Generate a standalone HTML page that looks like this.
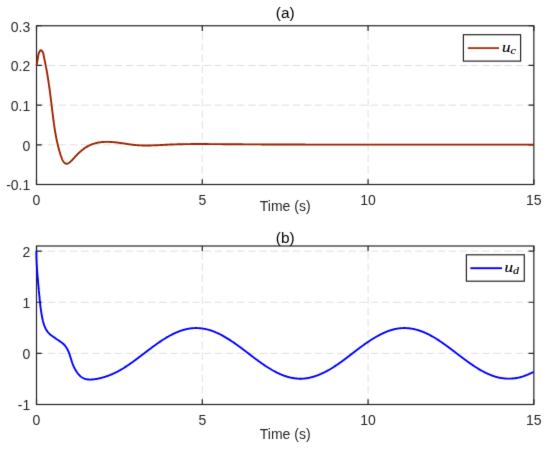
<!DOCTYPE html><html><head><meta charset="utf-8"><style>html,body{margin:0;padding:0;background:#fff;overflow:hidden;}svg{display:block;}text{font-family:'Liberation Sans', Arial, Helvetica, sans-serif;fill:#262626;}.lg{font-family:"Liberation Serif","DejaVu Serif",serif;font-style:italic;fill:#000;stroke:#000;stroke-width:0.15px;}</style></head><body>
<svg width="550" height="450" viewBox="0 0 550 450">
<defs><filter id="soft" x="0" y="0" width="550" height="450" filterUnits="userSpaceOnUse" color-interpolation-filters="sRGB"><feConvolveMatrix order="3" kernelMatrix="0.00810 0.07380 0.00810 0.07380 0.67240 0.07380 0.00810 0.07380 0.00810" edgeMode="duplicate" preserveAlpha="true"/></filter></defs>
<g filter="url(#soft)">
<rect width="550" height="450" fill="#fff"/>
<path d="M36.5,65.44H533.85M36.5,105.12H533.85M36.5,144.81H533.85" stroke="#e0e0e0" stroke-width="1" stroke-dasharray="7.5 3.64" fill="none"/>
<path d="M202.28,184.5V25.75" stroke="#e0e0e0" stroke-width="1" stroke-dasharray="7.5 3.64" fill="none"/>
<path d="M368.07,184.5V25.75" stroke="#e0e0e0" stroke-width="1" stroke-dasharray="7.5 3.64" fill="none"/>
<path d="M36.5,25.75h5.3M533.85,25.75h-5.3M36.5,65.44h5.3M533.85,65.44h-5.3M36.5,105.12h5.3M533.85,105.12h-5.3M36.5,144.81h5.3M533.85,144.81h-5.3M36.5,184.50h5.3M533.85,184.50h-5.3M36.50,184.5v-5.3M36.50,25.75v5.3M202.28,184.5v-5.3M202.28,25.75v5.3M368.07,184.5v-5.3M368.07,25.75v5.3M533.85,184.5v-5.3M533.85,25.75v5.3" stroke="#262626" stroke-width="1.2" fill="none"/>
<rect x="36.5" y="25.75" width="497.35" height="158.75" fill="none" stroke="#262626" stroke-width="1.2"/>
<path d="M36.51,65.82 L36.61,65.35 L36.70,64.89 L36.79,64.43 L36.87,63.98 L36.95,63.53 L37.03,63.08 L37.11,62.63 L37.18,62.19 L37.26,61.74 L37.33,61.30 L37.40,60.85 L37.47,60.41 L37.54,59.97 L37.61,59.52 L37.67,59.08 L37.74,58.63 L37.82,58.18 L37.89,57.73 L37.96,57.28 L38.04,56.83 L38.12,56.37 L38.20,55.91 L38.28,55.44 L38.37,54.98 L38.47,54.51 L38.59,54.04 L38.72,53.58 L38.86,53.12 L39.03,52.67 L39.22,52.22 L39.43,51.78 L39.68,51.35 L39.94,50.97 L40.23,50.64 L40.63,50.35 L41.05,50.27 L41.47,50.43 L41.88,50.78 L42.17,51.12 L42.43,51.50 L42.66,51.90 L42.86,52.32 L43.03,52.75 L43.18,53.19 L43.31,53.64 L43.43,54.10 L43.54,54.56 L43.63,55.03 L43.72,55.49 L43.81,55.96 L43.90,56.43 L43.99,56.89 L44.08,57.35 L44.17,57.81 L44.26,58.27 L44.36,58.72 L44.45,59.18 L44.54,59.63 L44.63,60.08 L44.72,60.53 L44.82,60.98 L44.91,61.43 L45.00,61.88 L45.09,62.33 L45.19,62.77 L45.28,63.22 L45.37,63.67 L45.46,64.11 L45.55,64.56 L45.64,65.01 L45.72,65.46 L45.81,65.90 L45.90,66.35 L45.98,66.80 L46.07,67.25 L46.15,67.70 L46.24,68.14 L46.32,68.59 L46.40,69.04 L46.49,69.49 L46.57,69.94 L46.65,70.39 L46.73,70.84 L46.81,71.29 L46.89,71.73 L46.97,72.18 L47.04,72.63 L47.12,73.08 L47.20,73.53 L47.28,73.98 L47.35,74.43 L47.43,74.88 L47.50,75.33 L47.58,75.78 L47.65,76.23 L47.72,76.68 L47.80,77.14 L47.87,77.59 L47.94,78.04 L48.01,78.49 L48.08,78.94 L48.15,79.39 L48.22,79.84 L48.29,80.29 L48.36,80.75 L48.43,81.20 L48.50,81.65 L48.56,82.10 L48.63,82.55 L48.70,83.00 L48.76,83.46 L48.83,83.91 L48.90,84.36 L48.96,84.81 L49.03,85.27 L49.09,85.72 L49.15,86.17 L49.22,86.62 L49.28,87.08 L49.34,87.53 L49.41,87.98 L49.47,88.44 L49.53,88.89 L49.59,89.34 L49.66,89.80 L49.72,90.25 L49.78,90.70 L49.84,91.16 L49.90,91.61 L49.96,92.06 L50.02,92.52 L50.08,92.97 L50.14,93.42 L50.20,93.88 L50.26,94.33 L50.31,94.79 L50.37,95.24 L50.43,95.69 L50.49,96.15 L50.55,96.60 L50.60,97.06 L50.66,97.51 L50.72,97.97 L50.78,98.42 L50.83,98.87 L50.89,99.33 L50.95,99.78 L51.00,100.24 L51.06,100.69 L51.12,101.15 L51.17,101.60 L51.23,102.06 L51.28,102.51 L51.34,102.97 L51.39,103.42 L51.45,103.88 L51.51,104.33 L51.56,104.79 L51.62,105.24 L51.67,105.70 L51.73,106.15 L51.78,106.61 L51.84,107.06 L51.89,107.52 L51.95,107.97 L52.00,108.43 L52.06,108.88 L52.11,109.34 L52.17,109.79 L52.22,110.25 L52.28,110.70 L52.33,111.16 L52.39,111.61 L52.45,112.07 L52.50,112.52 L52.56,112.98 L52.61,113.43 L52.67,113.89 L52.72,114.34 L52.78,114.80 L52.84,115.25 L52.89,115.71 L52.95,116.17 L53.01,116.62 L53.06,117.08 L53.12,117.53 L53.18,117.98 L53.24,118.44 L53.30,118.89 L53.36,119.35 L53.42,119.80 L53.47,120.26 L53.54,120.71 L53.60,121.17 L53.66,121.62 L53.72,122.07 L53.78,122.53 L53.84,122.98 L53.90,123.44 L53.97,123.89 L54.03,124.34 L54.10,124.80 L54.16,125.25 L54.23,125.70 L54.29,126.16 L54.36,126.61 L54.43,127.06 L54.49,127.51 L54.56,127.97 L54.63,128.42 L54.70,128.87 L54.77,129.32 L54.84,129.77 L54.92,130.23 L54.99,130.68 L55.06,131.13 L55.14,131.58 L55.21,132.03 L55.29,132.48 L55.36,132.93 L55.44,133.38 L55.52,133.83 L55.60,134.28 L55.68,134.73 L55.76,135.18 L55.84,135.63 L55.93,136.08 L56.01,136.52 L56.10,136.97 L56.18,137.42 L56.27,137.87 L56.36,138.32 L56.45,138.76 L56.54,139.21 L56.63,139.66 L56.72,140.10 L56.82,140.55 L56.91,140.99 L57.01,141.44 L57.10,141.89 L57.20,142.33 L57.30,142.77 L57.40,143.22 L57.50,143.66 L57.61,144.11 L57.71,144.55 L57.82,144.99 L57.93,145.44 L58.03,145.88 L58.14,146.32 L58.25,146.76 L58.37,147.20 L58.48,147.64 L58.60,148.08 L58.71,148.52 L58.83,148.96 L58.95,149.40 L59.07,149.84 L59.19,150.28 L59.32,150.72 L59.44,151.16 L59.57,151.59 L59.70,152.03 L59.83,152.47 L59.96,152.91 L60.10,153.34 L60.24,153.78 L60.38,154.22 L60.52,154.65 L60.66,155.09 L60.81,155.52 L60.96,155.96 L61.11,156.40 L61.27,156.83 L61.43,157.27 L61.59,157.71 L61.76,158.15 L61.92,158.58 L62.10,159.02 L62.28,159.45 L62.47,159.87 L62.68,160.29 L62.89,160.70 L63.12,161.09 L63.37,161.48 L63.64,161.84 L63.93,162.19 L64.25,162.52 L64.58,162.83 L64.95,163.11 L65.34,163.36 L65.75,163.57 L66.17,163.71 L66.60,163.78 L67.03,163.76 L67.45,163.65 L67.87,163.48 L68.28,163.25 L68.69,163.00 L69.08,162.72 L69.46,162.44 L69.83,162.15 L70.19,161.86 L70.54,161.56 L70.88,161.25 L71.22,160.94 L71.54,160.63 L71.87,160.31 L72.18,159.99 L72.49,159.66 L72.80,159.33 L73.11,159.00 L73.41,158.67 L73.71,158.33 L74.01,158.00 L74.31,157.66 L74.62,157.33 L74.92,156.99 L75.23,156.65 L75.54,156.32 L75.85,155.99 L76.16,155.65 L76.48,155.32 L76.80,154.99 L77.12,154.66 L77.45,154.33 L77.77,154.01 L78.10,153.68 L78.44,153.36 L78.77,153.04 L79.11,152.73 L79.45,152.41 L79.79,152.10 L80.14,151.79 L80.48,151.48 L80.84,151.18 L81.19,150.88 L81.54,150.58 L81.90,150.29 L82.26,150.00 L82.63,149.71 L82.99,149.42 L83.36,149.15 L83.73,148.87 L84.10,148.60 L84.48,148.33 L84.86,148.07 L85.24,147.81 L85.62,147.56 L86.01,147.31 L86.40,147.07 L86.79,146.83 L87.18,146.60 L87.58,146.37 L87.98,146.15 L88.38,145.93 L88.78,145.72 L89.18,145.52 L89.59,145.32 L90.00,145.13 L90.42,144.94 L90.83,144.76 L91.25,144.59 L91.67,144.42 L92.09,144.26 L92.52,144.11 L92.94,143.96 L93.37,143.81 L93.80,143.68 L94.23,143.55 L94.67,143.42 L95.11,143.30 L95.54,143.19 L95.98,143.08 L96.42,142.97 L96.87,142.87 L97.31,142.78 L97.76,142.69 L98.20,142.61 L98.65,142.53 L99.10,142.45 L99.55,142.38 L100.00,142.32 L100.45,142.26 L100.91,142.21 L101.36,142.15 L101.82,142.11 L102.27,142.07 L102.73,142.03 L103.19,141.99 L103.65,141.97 L104.11,141.94 L104.56,141.92 L105.02,141.90 L105.48,141.89 L105.94,141.88 L106.40,141.87 L106.87,141.87 L107.33,141.87 L107.79,141.87 L108.25,141.88 L108.71,141.89 L109.17,141.90 L109.63,141.92 L110.09,141.94 L110.55,141.96 L111.01,141.98 L111.47,142.01 L111.93,142.04 L112.39,142.08 L112.84,142.11 L113.30,142.15 L113.76,142.19 L114.22,142.23 L114.67,142.28 L115.13,142.32 L115.59,142.37 L116.05,142.42 L116.50,142.47 L116.96,142.53 L117.41,142.58 L117.87,142.64 L118.33,142.70 L118.78,142.76 L119.24,142.82 L119.69,142.88 L120.15,142.94 L120.60,143.00 L121.06,143.07 L121.51,143.13 L121.97,143.20 L122.42,143.27 L122.87,143.33 L123.33,143.40 L123.78,143.47 L124.24,143.54 L124.69,143.60 L125.14,143.67 L125.60,143.74 L126.05,143.81 L126.50,143.88 L126.96,143.94 L127.41,144.01 L127.86,144.08 L128.32,144.14 L128.77,144.21 L129.23,144.27 L129.68,144.33 L130.13,144.40 L130.59,144.46 L131.04,144.52 L131.49,144.58 L131.95,144.63 L132.40,144.69 L132.85,144.74 L133.31,144.80 L133.76,144.85 L134.21,144.90 L134.67,144.95 L135.12,144.99 L135.58,145.04 L136.03,145.08 L136.48,145.12 L136.94,145.15 L137.39,145.19 L137.85,145.22 L138.30,145.25 L138.76,145.28 L139.21,145.31 L139.67,145.33 L140.12,145.36 L140.58,145.38 L141.03,145.40 L141.49,145.41 L141.94,145.43 L142.40,145.44 L142.85,145.46 L143.31,145.47 L143.77,145.48 L144.22,145.48 L144.68,145.49 L145.13,145.49 L145.59,145.50 L146.05,145.50 L146.50,145.50 L146.96,145.50 L147.42,145.50 L147.87,145.49 L148.33,145.49 L148.78,145.48 L149.24,145.47 L149.70,145.46 L150.15,145.46 L150.61,145.44 L151.07,145.43 L151.53,145.42 L151.98,145.41 L152.44,145.39 L152.90,145.38 L153.35,145.36 L153.81,145.35 L154.27,145.33 L154.73,145.31 L155.18,145.29 L155.64,145.27 L156.10,145.25 L156.55,145.23 L157.01,145.21 L157.47,145.19 L157.93,145.17 L158.38,145.14 L158.84,145.12 L159.30,145.10 L159.76,145.08 L160.21,145.05 L160.67,145.03 L161.13,145.00 L161.59,144.98 L162.05,144.96 L162.50,144.93 L162.96,144.91 L163.42,144.89 L163.88,144.86 L164.33,144.84 L164.79,144.81 L165.25,144.79 L165.71,144.77 L166.16,144.74 L166.62,144.72 L167.08,144.70 L167.54,144.68 L168.00,144.66 L168.45,144.63 L168.91,144.61 L169.37,144.59 L169.83,144.57 L170.28,144.55 L170.74,144.54 L171.20,144.52 L171.66,144.50 L172.12,144.48 L172.57,144.46 L173.03,144.45 L173.49,144.43 L173.95,144.42 L174.40,144.40 L174.86,144.38 L175.32,144.37 L175.78,144.36 L176.23,144.34 L176.69,144.33 L177.15,144.32 L177.61,144.30 L178.06,144.29 L178.52,144.28 L178.98,144.27 L179.44,144.25 L179.89,144.24 L180.35,144.23 L180.81,144.22 L181.27,144.21 L181.72,144.20 L182.18,144.19 L182.64,144.18 L183.10,144.18 L183.56,144.17 L184.01,144.16 L184.47,144.15 L184.93,144.14 L185.39,144.14 L185.84,144.13 L186.30,144.12 L186.76,144.12 L187.22,144.11 L187.67,144.11 L188.13,144.10 L188.59,144.10 L189.04,144.09 L189.50,144.09 L189.96,144.08 L190.42,144.08 L190.87,144.07 L191.33,144.07 L191.79,144.07 L192.25,144.06 L192.70,144.06 L193.16,144.06 L193.62,144.06 L194.08,144.05 L194.53,144.05 L194.99,144.05 L195.45,144.05 L195.91,144.05 L196.36,144.05 L196.82,144.05 L197.28,144.04 L197.74,144.04 L198.19,144.04 L198.65,144.04 L199.11,144.04 L199.57,144.04 L200.02,144.04 L200.48,144.04 L200.94,144.05 L201.40,144.05 L201.85,144.05 L202.31,144.05 L202.77,144.05 L203.22,144.05 L203.68,144.05 L204.14,144.05 L204.60,144.06 L205.05,144.06 L205.51,144.06 L205.97,144.06 L206.43,144.06 L206.88,144.07 L207.34,144.07 L207.80,144.07 L208.26,144.07 L208.71,144.08 L209.17,144.08 L209.63,144.08 L210.09,144.09 L210.54,144.09 L211.00,144.09 L211.46,144.10 L211.91,144.10 L212.37,144.10 L212.83,144.11 L213.29,144.11 L213.74,144.11 L214.20,144.12 L214.66,144.12 L215.12,144.12 L215.57,144.13 L216.03,144.13 L216.49,144.13 L216.95,144.14 L217.40,144.14 L217.86,144.14 L218.32,144.15 L218.78,144.15 L219.23,144.16 L219.69,144.16 L220.15,144.16 L220.60,144.17 L221.06,144.17 L221.52,144.17 L221.98,144.18 L222.43,144.18 L222.89,144.18 L223.35,144.19 L223.81,144.19 L224.26,144.19 L224.72,144.20 L225.18,144.20 L225.64,144.21 L226.09,144.21 L226.55,144.21 L227.01,144.22 L227.47,144.22 L227.92,144.22 L228.38,144.23 L228.84,144.23 L229.29,144.23 L229.75,144.24 L230.21,144.24 L230.67,144.24 L231.12,144.25 L231.58,144.25 L232.04,144.25 L232.50,144.25 L232.95,144.26 L233.41,144.26 L233.87,144.26 L234.33,144.27 L234.78,144.27 L235.24,144.27 L235.70,144.28 L236.16,144.28 L236.61,144.28 L237.07,144.29 L237.53,144.29 L237.99,144.29 L238.44,144.29 L238.90,144.30 L239.36,144.30 L239.82,144.30 L240.27,144.31 L240.73,144.31 L241.19,144.31 L241.64,144.31 L242.10,144.32 L242.56,144.32 L243.02,144.32 L243.47,144.33 L243.93,144.33 L244.39,144.33 L244.85,144.33 L245.30,144.34 L245.76,144.34 L246.22,144.34 L246.68,144.35 L247.13,144.35 L247.59,144.35 L248.05,144.35 L248.51,144.36 L248.96,144.36 L249.42,144.36 L249.88,144.36 L250.34,144.37 L250.79,144.37 L251.25,144.37 L251.71,144.37 L252.17,144.38 L252.62,144.38 L253.08,144.38 L253.54,144.38 L254.00,144.39 L254.45,144.39 L254.91,144.39 L255.37,144.39 L255.82,144.40 L256.28,144.40 L256.74,144.40 L257.20,144.40 L257.65,144.40 L258.11,144.41 L258.57,144.41 L259.03,144.41 L259.48,144.41 L259.94,144.42 L260.40,144.42 L260.86,144.42 L261.31,144.42 L261.77,144.43 L262.23,144.43 L262.69,144.43 L263.14,144.43 L263.60,144.43 L264.06,144.44 L264.52,144.44 L264.97,144.44 L265.43,144.44 L265.89,144.44 L266.35,144.45 L266.80,144.45 L267.26,144.45 L267.72,144.45 L268.18,144.45 L268.63,144.46 L269.09,144.46 L269.55,144.46 L270.01,144.46 L270.46,144.46 L270.92,144.47 L271.38,144.47 L271.84,144.47 L272.29,144.47 L272.75,144.47 L273.21,144.48 L273.67,144.48 L274.12,144.48 L274.58,144.48 L275.04,144.48 L275.50,144.48 L275.95,144.49 L276.41,144.49 L276.87,144.49 L277.33,144.49 L277.78,144.49 L278.24,144.50 L278.70,144.50 L279.16,144.50 L279.61,144.50 L280.07,144.50 L280.53,144.50 L280.99,144.51 L281.44,144.51 L281.90,144.51 L282.36,144.51 L282.82,144.51 L283.27,144.51 L283.73,144.51 L284.19,144.52 L284.65,144.52 L285.10,144.52 L285.56,144.52 L286.02,144.52 L286.48,144.52 L286.93,144.53 L287.39,144.53 L287.85,144.53 L288.31,144.53 L288.76,144.53 L289.22,144.53 L289.68,144.53 L290.14,144.54 L290.59,144.54 L291.05,144.54 L291.51,144.54 L291.97,144.54 L292.42,144.54 L292.88,144.54 L293.34,144.54 L293.80,144.55 L294.25,144.55 L294.71,144.55 L295.17,144.55 L295.63,144.55 L296.08,144.55 L296.54,144.55 L297.00,144.55 L297.46,144.56 L297.91,144.56 L298.37,144.56 L298.83,144.56 L299.29,144.56 L299.74,144.56 L300.20,144.56 L300.66,144.56 L301.12,144.57 L301.57,144.57 L302.03,144.57 L302.49,144.57 L302.95,144.57 L303.40,144.57 L303.86,144.57 L304.32,144.57 L304.78,144.57 L305.23,144.58 L305.69,144.58 L306.15,144.58 L306.61,144.58 L307.06,144.58 L307.52,144.58 L307.98,144.58 L308.44,144.58 L308.89,144.58 L309.35,144.58 L309.81,144.58 L310.27,144.59 L310.72,144.59 L311.18,144.59 L311.64,144.59 L312.10,144.59 L312.55,144.59 L313.01,144.59 L313.47,144.59 L313.93,144.59 L314.38,144.59 L314.84,144.59 L315.30,144.60 L315.76,144.60 L316.21,144.60 L316.67,144.60 L317.13,144.60 L317.59,144.60 L318.04,144.60 L318.50,144.60 L318.96,144.60 L319.42,144.60 L319.87,144.60 L320.33,144.60 L320.79,144.60 L321.25,144.61 L321.70,144.61 L322.16,144.61 L322.62,144.61 L323.08,144.61 L323.53,144.61 L323.99,144.61 L324.45,144.61 L324.91,144.61 L325.36,144.61 L325.82,144.61 L326.28,144.61 L326.74,144.61 L327.19,144.61 L327.65,144.61 L328.11,144.61 L328.57,144.62 L329.02,144.62 L329.48,144.62 L329.94,144.62 L330.40,144.62 L330.85,144.62 L331.31,144.62 L331.77,144.62 L332.23,144.62 L332.68,144.62 L333.14,144.62 L333.60,144.62 L334.06,144.62 L334.52,144.62 L334.97,144.62 L335.43,144.62 L335.89,144.62 L336.35,144.62 L336.80,144.62 L337.26,144.62 L337.72,144.62 L338.18,144.62 L338.63,144.63 L339.09,144.63 L339.55,144.63 L340.01,144.63 L340.46,144.63 L340.92,144.63 L341.38,144.63 L341.84,144.63 L342.29,144.63 L342.75,144.63 L343.21,144.63 L343.67,144.63 L344.12,144.63 L344.58,144.63 L345.04,144.63 L345.50,144.63 L345.95,144.63 L346.41,144.63 L346.87,144.63 L347.33,144.63 L347.78,144.63 L348.24,144.63 L348.70,144.63 L349.16,144.63 L349.61,144.63 L350.07,144.63 L350.53,144.63 L350.99,144.63 L351.44,144.63 L351.90,144.63 L352.36,144.63 L352.82,144.63 L353.27,144.63 L353.73,144.63 L354.19,144.63 L354.65,144.63 L355.10,144.63 L355.56,144.63 L356.02,144.63 L356.48,144.63 L356.94,144.63 L357.39,144.64 L357.85,144.64 L358.31,144.64 L358.77,144.64 L359.22,144.64 L359.68,144.64 L360.14,144.64 L360.60,144.64 L361.05,144.64 L361.51,144.64 L361.97,144.64 L362.43,144.64 L362.88,144.64 L363.34,144.64 L363.80,144.64 L364.26,144.64 L364.71,144.64 L365.17,144.64 L365.63,144.64 L366.09,144.64 L366.54,144.64 L367.00,144.64 L367.46,144.64 L367.92,144.64 L368.37,144.64 L368.83,144.64 L369.29,144.64 L369.75,144.64 L370.20,144.64 L370.66,144.64 L371.12,144.64 L371.58,144.64 L372.03,144.64 L372.49,144.64 L372.95,144.64 L373.41,144.64 L373.86,144.64 L374.32,144.64 L374.78,144.64 L375.24,144.64 L375.70,144.63 L376.15,144.63 L376.61,144.63 L377.07,144.63 L377.53,144.63 L377.98,144.63 L378.44,144.63 L378.90,144.63 L379.36,144.63 L379.81,144.63 L380.27,144.63 L380.73,144.63 L381.19,144.63 L381.64,144.63 L382.10,144.63 L382.56,144.63 L383.02,144.63 L383.47,144.63 L383.93,144.63 L384.39,144.63 L384.85,144.63 L385.30,144.63 L385.76,144.63 L386.22,144.63 L386.68,144.63 L387.13,144.63 L387.59,144.63 L388.05,144.63 L388.51,144.63 L388.96,144.63 L389.42,144.63 L389.88,144.63 L390.34,144.63 L390.79,144.63 L391.25,144.63 L391.71,144.63 L392.17,144.63 L392.63,144.63 L393.08,144.63 L393.54,144.63 L394.00,144.63 L394.46,144.63 L394.91,144.63 L395.37,144.63 L395.83,144.63 L396.29,144.63 L396.74,144.63 L397.20,144.63 L397.66,144.63 L398.12,144.63 L398.57,144.63 L399.03,144.63 L399.49,144.62 L399.95,144.62 L400.40,144.62 L400.86,144.62 L401.32,144.62 L401.78,144.62 L402.23,144.62 L402.69,144.62 L403.15,144.62 L403.61,144.62 L404.06,144.62 L404.52,144.62 L404.98,144.62 L405.44,144.62 L405.89,144.62 L406.35,144.62 L406.81,144.62 L407.27,144.62 L407.72,144.62 L408.18,144.62 L408.64,144.62 L409.10,144.62 L409.56,144.62 L410.01,144.62 L410.47,144.62 L410.93,144.62 L411.39,144.62 L411.84,144.62 L412.30,144.62 L412.76,144.62 L413.22,144.62 L413.67,144.62 L414.13,144.62 L414.59,144.62 L415.05,144.61 L415.50,144.61 L415.96,144.61 L416.42,144.61 L416.88,144.61 L417.33,144.61 L417.79,144.61 L418.25,144.61 L418.71,144.61 L419.16,144.61 L419.62,144.61 L420.08,144.61 L420.54,144.61 L420.99,144.61 L421.45,144.61 L421.91,144.61 L422.37,144.61 L422.82,144.61 L423.28,144.61 L423.74,144.61 L424.20,144.61 L424.65,144.61 L425.11,144.61 L425.57,144.61 L426.03,144.61 L426.49,144.61 L426.94,144.61 L427.40,144.61 L427.86,144.61 L428.32,144.61 L428.77,144.60 L429.23,144.60 L429.69,144.60 L430.15,144.60 L430.60,144.60 L431.06,144.60 L431.52,144.60 L431.98,144.60 L432.43,144.60 L432.89,144.60 L433.35,144.60 L433.81,144.60 L434.26,144.60 L434.72,144.60 L435.18,144.60 L435.64,144.60 L436.09,144.60 L436.55,144.60 L437.01,144.60 L437.47,144.60 L437.92,144.60 L438.38,144.60 L438.84,144.60 L439.30,144.60 L439.75,144.60 L440.21,144.60 L440.67,144.60 L441.13,144.60 L441.58,144.60 L442.04,144.60 L442.50,144.60 L442.96,144.59 L443.41,144.59 L443.87,144.59 L444.33,144.59 L444.79,144.59 L445.24,144.59 L445.70,144.59 L446.16,144.59 L446.62,144.59 L447.07,144.59 L447.53,144.59 L447.99,144.59 L448.45,144.59 L448.91,144.59 L449.36,144.59 L449.82,144.59 L450.28,144.59 L450.74,144.59 L451.19,144.59 L451.65,144.59 L452.11,144.59 L452.57,144.59 L453.02,144.59 L453.48,144.59 L453.94,144.59 L454.40,144.59 L454.85,144.59 L455.31,144.59 L455.77,144.59 L456.23,144.59 L456.68,144.59 L457.14,144.59 L457.60,144.59 L458.06,144.59 L458.51,144.59 L458.97,144.59 L459.43,144.59 L459.89,144.58 L460.34,144.58 L460.80,144.58 L461.26,144.58 L461.72,144.58 L462.17,144.58 L462.63,144.58 L463.09,144.58 L463.55,144.58 L464.00,144.58 L464.46,144.58 L464.92,144.58 L465.38,144.58 L465.83,144.58 L466.29,144.58 L466.75,144.58 L467.21,144.58 L467.66,144.58 L468.12,144.58 L468.58,144.58 L469.04,144.58 L469.49,144.58 L469.95,144.58 L470.41,144.58 L470.87,144.58 L471.32,144.58 L471.78,144.58 L472.24,144.58 L472.70,144.58 L473.15,144.58 L473.61,144.58 L474.07,144.58 L474.53,144.58 L474.98,144.58 L475.44,144.58 L475.90,144.58 L476.36,144.58 L476.81,144.58 L477.27,144.58 L477.73,144.58 L478.19,144.58 L478.64,144.58 L479.10,144.58 L479.56,144.58 L480.02,144.58 L480.47,144.58 L480.93,144.58 L481.39,144.58 L481.85,144.58 L482.30,144.58 L482.76,144.58 L483.22,144.58 L483.68,144.58 L484.13,144.58 L484.59,144.58 L485.05,144.58 L485.51,144.58 L485.96,144.58 L486.42,144.58 L486.88,144.58 L487.34,144.58 L487.79,144.58 L488.25,144.58 L488.71,144.58 L489.17,144.58 L489.62,144.58 L490.08,144.58 L490.54,144.58 L491.00,144.58 L491.45,144.58 L491.91,144.58 L492.37,144.58 L492.83,144.58 L493.28,144.58 L493.74,144.58 L494.20,144.58 L494.66,144.58 L495.11,144.58 L495.57,144.58 L496.03,144.58 L496.49,144.58 L496.94,144.58 L497.40,144.58 L497.86,144.58 L498.32,144.58 L498.77,144.58 L499.23,144.58 L499.69,144.58 L500.15,144.58 L500.60,144.58 L501.06,144.58 L501.52,144.58 L501.98,144.58 L502.43,144.58 L502.89,144.58 L503.35,144.58 L503.81,144.58 L504.26,144.58 L504.72,144.58 L505.18,144.58 L505.64,144.58 L506.09,144.58 L506.55,144.58 L507.01,144.58 L507.47,144.58 L507.92,144.59 L508.38,144.59 L508.84,144.59 L509.30,144.59 L509.75,144.59 L510.21,144.59 L510.67,144.59 L511.13,144.59 L511.58,144.59 L512.04,144.59 L512.50,144.59 L512.96,144.59 L513.41,144.59 L513.87,144.59 L514.33,144.59 L514.79,144.59 L515.24,144.59 L515.70,144.59 L516.16,144.59 L516.62,144.59 L517.07,144.59 L517.53,144.59 L517.99,144.59 L518.45,144.59 L518.90,144.59 L519.36,144.59 L519.82,144.60 L520.28,144.60 L520.73,144.60 L521.19,144.60 L521.65,144.60 L522.11,144.60 L522.56,144.60 L523.02,144.60 L523.48,144.60 L523.94,144.60 L524.39,144.60 L524.85,144.60 L525.31,144.60 L525.77,144.60 L526.22,144.60 L526.68,144.60 L527.14,144.60 L527.60,144.60 L528.05,144.61 L528.51,144.61 L528.97,144.61 L529.42,144.61 L529.88,144.61 L530.34,144.61 L530.80,144.61 L531.25,144.61 L531.71,144.61 L532.17,144.61 L532.63,144.61 L533.08,144.61 L533.54,144.61 L533.85,144.61" fill="none" stroke="#9a2400" stroke-width="1.9" stroke-linejoin="round" stroke-linecap="butt"/>
<text x="30.3" y="31.65" font-size="14" text-anchor="end">0.3</text>
<text x="30.3" y="71.34" font-size="14" text-anchor="end">0.2</text>
<text x="30.3" y="111.03" font-size="14" text-anchor="end">0.1</text>
<text x="30.3" y="150.71" font-size="14" text-anchor="end">0</text>
<text x="30.3" y="190.40" font-size="14" text-anchor="end">-0.1</text>
<text x="36.50" y="204.7" font-size="14" text-anchor="middle">0</text>
<text x="202.28" y="204.7" font-size="14" text-anchor="middle">5</text>
<text x="368.07" y="204.7" font-size="14" text-anchor="middle">10</text>
<text x="533.85" y="204.7" font-size="14" text-anchor="middle">15</text>
<text x="285.18" y="210.8" font-size="14" text-anchor="middle">Time (s)</text>
<text x="285.18" y="17.8" font-size="15.4" text-anchor="middle" style="fill:#000">(a)</text>
<rect x="463.4" y="34.7" width="57.20" height="26.40" fill="#fff" stroke="#262626" stroke-width="1.2"/>
<path d="M467.8,48.1H499.0" stroke="#a53a12" stroke-width="1.9" fill="none"/>
<text class="lg" transform="translate(502.0,51.6) scale(1.15,1)" font-size="15">u<tspan font-size="10.5" dy="2.4">c</tspan></text>
<path d="M36.5,251.11H533.85M36.5,302.24H533.85M36.5,353.37H533.85" stroke="#e0e0e0" stroke-width="1" stroke-dasharray="7.5 3.64" fill="none"/>
<path d="M202.28,404.5V246.0" stroke="#e0e0e0" stroke-width="1" stroke-dasharray="7.5 3.64" fill="none"/>
<path d="M368.07,404.5V246.0" stroke="#e0e0e0" stroke-width="1" stroke-dasharray="7.5 3.64" fill="none"/>
<path d="M36.5,251.11h5.3M533.85,251.11h-5.3M36.5,302.24h5.3M533.85,302.24h-5.3M36.5,353.37h5.3M533.85,353.37h-5.3M36.5,404.50h5.3M533.85,404.50h-5.3M36.50,404.5v-5.3M36.50,246.0v5.3M202.28,404.5v-5.3M202.28,246.0v5.3M368.07,404.5v-5.3M368.07,246.0v5.3M533.85,404.5v-5.3M533.85,246.0v5.3" stroke="#262626" stroke-width="1.2" fill="none"/>
<rect x="36.5" y="246.0" width="497.35" height="158.50" fill="none" stroke="#262626" stroke-width="1.2"/>
<path d="M36.37,251.00 L36.37,251.49 L36.37,251.97 L36.37,252.46 L36.38,252.95 L36.38,253.44 L36.39,253.92 L36.39,254.41 L36.40,254.90 L36.41,255.39 L36.42,255.87 L36.43,256.36 L36.44,256.85 L36.45,257.34 L36.47,257.82 L36.48,258.31 L36.50,258.80 L36.51,259.29 L36.53,259.77 L36.55,260.26 L36.57,260.75 L36.59,261.23 L36.61,261.72 L36.63,262.21 L36.65,262.70 L36.68,263.18 L36.70,263.67 L36.73,264.16 L36.75,264.64 L36.78,265.13 L36.81,265.62 L36.84,266.10 L36.86,266.59 L36.89,267.08 L36.93,267.56 L36.96,268.05 L36.99,268.54 L37.02,269.02 L37.05,269.51 L37.09,270.00 L37.12,270.48 L37.16,270.97 L37.19,271.46 L37.23,271.94 L37.26,272.43 L37.30,272.91 L37.34,273.40 L37.38,273.89 L37.41,274.37 L37.45,274.86 L37.49,275.35 L37.53,275.83 L37.57,276.32 L37.61,276.80 L37.65,277.29 L37.70,277.78 L37.74,278.26 L37.78,278.75 L37.82,279.23 L37.86,279.72 L37.91,280.20 L37.95,280.69 L37.99,281.18 L38.04,281.66 L38.08,282.15 L38.13,282.63 L38.17,283.12 L38.21,283.60 L38.26,284.09 L38.30,284.58 L38.35,285.06 L38.39,285.55 L38.44,286.03 L38.48,286.52 L38.53,287.00 L38.57,287.49 L38.62,287.97 L38.66,288.46 L38.71,288.94 L38.75,289.43 L38.80,289.91 L38.84,290.40 L38.89,290.88 L38.93,291.37 L38.98,291.85 L39.02,292.34 L39.07,292.82 L39.11,293.31 L39.16,293.79 L39.20,294.28 L39.25,294.76 L39.29,295.25 L39.34,295.73 L39.38,296.22 L39.43,296.70 L39.47,297.19 L39.52,297.67 L39.56,298.16 L39.61,298.64 L39.66,299.12 L39.71,299.61 L39.75,300.09 L39.80,300.58 L39.85,301.06 L39.90,301.55 L39.95,302.03 L40.00,302.51 L40.06,303.00 L40.11,303.48 L40.16,303.97 L40.22,304.45 L40.27,304.93 L40.33,305.42 L40.39,305.90 L40.45,306.38 L40.51,306.87 L40.57,307.35 L40.63,307.83 L40.69,308.32 L40.76,308.80 L40.82,309.28 L40.89,309.77 L40.96,310.25 L41.03,310.73 L41.10,311.22 L41.17,311.70 L41.25,312.18 L41.33,312.67 L41.40,313.15 L41.48,313.63 L41.56,314.11 L41.65,314.60 L41.73,315.08 L41.82,315.56 L41.91,316.04 L42.00,316.53 L42.09,317.01 L42.19,317.49 L42.28,317.97 L42.38,318.45 L42.48,318.93 L42.59,319.42 L42.69,319.90 L42.80,320.38 L42.92,320.85 L43.03,321.33 L43.16,321.81 L43.28,322.28 L43.41,322.75 L43.55,323.22 L43.69,323.69 L43.83,324.15 L43.98,324.61 L44.14,325.07 L44.30,325.53 L44.47,325.98 L44.65,326.43 L44.83,326.87 L45.02,327.31 L45.22,327.75 L45.42,328.18 L45.63,328.60 L45.86,329.03 L46.09,329.44 L46.33,329.85 L46.57,330.26 L46.83,330.66 L47.10,331.05 L47.38,331.44 L47.66,331.82 L47.96,332.19 L48.27,332.56 L48.59,332.92 L48.92,333.27 L49.27,333.61 L49.62,333.95 L49.99,334.28 L50.37,334.60 L50.75,334.92 L51.15,335.22 L51.55,335.53 L51.96,335.82 L52.37,336.12 L52.79,336.41 L53.20,336.69 L53.61,336.98 L54.02,337.26 L54.43,337.54 L54.83,337.82 L55.23,338.10 L55.62,338.38 L56.02,338.66 L56.41,338.94 L56.81,339.21 L57.20,339.49 L57.60,339.76 L58.00,340.04 L58.40,340.31 L58.80,340.58 L59.21,340.85 L59.61,341.13 L60.02,341.40 L60.42,341.68 L60.82,341.96 L61.22,342.24 L61.62,342.53 L62.01,342.83 L62.39,343.13 L62.77,343.44 L63.14,343.76 L63.50,344.08 L63.85,344.42 L64.19,344.76 L64.52,345.12 L64.84,345.48 L65.15,345.85 L65.45,346.24 L65.73,346.63 L66.01,347.02 L66.28,347.43 L66.54,347.84 L66.80,348.25 L67.04,348.68 L67.27,349.10 L67.50,349.53 L67.72,349.96 L67.93,350.40 L68.13,350.84 L68.33,351.28 L68.52,351.72 L68.71,352.17 L68.88,352.62 L69.06,353.07 L69.23,353.53 L69.39,353.98 L69.56,354.44 L69.71,354.90 L69.87,355.36 L70.02,355.83 L70.17,356.29 L70.32,356.75 L70.46,357.22 L70.61,357.69 L70.75,358.15 L70.90,358.62 L71.04,359.09 L71.19,359.56 L71.33,360.02 L71.48,360.49 L71.63,360.96 L71.78,361.42 L71.94,361.89 L72.09,362.35 L72.25,362.82 L72.42,363.28 L72.59,363.74 L72.76,364.20 L72.94,364.65 L73.12,365.11 L73.31,365.56 L73.50,366.01 L73.70,366.46 L73.90,366.91 L74.11,367.35 L74.33,367.79 L74.55,368.23 L74.77,368.66 L75.00,369.09 L75.24,369.52 L75.48,369.94 L75.73,370.36 L75.99,370.78 L76.25,371.19 L76.51,371.59 L76.79,372.00 L77.07,372.39 L77.35,372.79 L77.64,373.18 L77.94,373.56 L78.25,373.94 L78.56,374.31 L78.88,374.67 L79.20,375.03 L79.54,375.38 L79.88,375.72 L80.24,376.05 L80.60,376.37 L80.97,376.67 L81.36,376.96 L81.75,377.24 L82.16,377.50 L82.58,377.75 L83.01,377.98 L83.45,378.20 L83.89,378.40 L84.35,378.58 L84.81,378.75 L85.28,378.90 L85.76,379.04 L86.24,379.17 L86.72,379.27 L87.20,379.36 L87.69,379.44 L88.18,379.50 L88.66,379.54 L89.15,379.57 L89.64,379.59 L90.12,379.60 L90.61,379.59 L91.10,379.57 L91.58,379.55 L92.07,379.51 L92.55,379.47 L93.04,379.42 L93.52,379.36 L94.01,379.30 L94.49,379.24 L94.97,379.17 L95.45,379.09 L95.93,379.02 L96.41,378.94 L96.89,378.85 L97.37,378.76 L97.85,378.67 L98.33,378.58 L98.80,378.48 L99.28,378.37 L99.76,378.27 L100.23,378.16 L100.70,378.04 L101.18,377.93 L101.65,377.80 L102.12,377.68 L102.59,377.55 L103.06,377.42 L103.53,377.28 L103.99,377.15 L104.46,377.00 L104.92,376.86 L105.39,376.71 L105.85,376.56 L106.32,376.40 L106.78,376.25 L107.24,376.09 L107.70,375.92 L108.15,375.75 L108.61,375.58 L109.07,375.41 L109.52,375.23 L109.98,375.05 L110.43,374.87 L110.88,374.69 L111.33,374.50 L111.78,374.31 L112.23,374.11 L112.68,373.92 L113.12,373.72 L113.57,373.51 L114.01,373.31 L114.45,373.10 L114.89,372.89 L115.33,372.68 L115.77,372.46 L116.20,372.25 L116.64,372.03 L117.07,371.80 L117.51,371.58 L117.94,371.35 L118.37,371.12 L118.80,370.89 L119.22,370.65 L119.65,370.42 L120.07,370.18 L120.50,369.94 L120.92,369.69 L121.34,369.45 L121.76,369.20 L122.18,368.95 L122.59,368.70 L123.01,368.45 L123.43,368.19 L123.84,367.94 L124.25,367.68 L124.66,367.42 L125.08,367.15 L125.49,366.89 L125.89,366.63 L126.30,366.36 L126.71,366.09 L127.11,365.82 L127.52,365.55 L127.92,365.28 L128.33,365.01 L128.73,364.73 L129.13,364.46 L129.53,364.18 L129.93,363.90 L130.33,363.62 L130.73,363.34 L131.13,363.06 L131.53,362.78 L131.93,362.49 L132.32,362.21 L132.72,361.93 L133.11,361.64 L133.51,361.35 L133.90,361.07 L134.30,360.78 L134.69,360.49 L135.08,360.20 L135.48,359.91 L135.87,359.62 L136.26,359.33 L136.65,359.04 L137.04,358.75 L137.43,358.46 L137.82,358.16 L138.21,357.87 L138.60,357.58 L138.99,357.28 L139.38,356.99 L139.77,356.70 L140.16,356.40 L140.55,356.11 L140.93,355.81 L141.32,355.52 L141.71,355.22 L142.10,354.93 L142.49,354.63 L142.87,354.33 L143.26,354.04 L143.65,353.74 L144.04,353.45 L144.42,353.15 L144.81,352.85 L145.20,352.56 L145.59,352.26 L145.97,351.97 L146.36,351.67 L146.75,351.38 L147.14,351.08 L147.53,350.79 L147.92,350.49 L148.30,350.20 L148.69,349.90 L149.08,349.61 L149.47,349.32 L149.86,349.02 L150.25,348.73 L150.64,348.44 L151.03,348.15 L151.42,347.86 L151.81,347.57 L152.21,347.28 L152.60,346.99 L152.99,346.70 L153.38,346.41 L153.78,346.12 L154.17,345.83 L154.57,345.55 L154.96,345.26 L155.36,344.98 L155.75,344.69 L156.15,344.41 L156.55,344.13 L156.94,343.85 L157.34,343.57 L157.74,343.29 L158.14,343.01 L158.54,342.73 L158.94,342.46 L159.35,342.18 L159.75,341.91 L160.15,341.63 L160.56,341.36 L160.96,341.09 L161.37,340.82 L161.77,340.55 L162.18,340.28 L162.59,340.02 L163.00,339.75 L163.41,339.49 L163.82,339.23 L164.24,338.97 L164.65,338.71 L165.06,338.45 L165.48,338.19 L165.89,337.94 L166.31,337.69 L166.73,337.44 L167.15,337.19 L167.57,336.94 L167.99,336.70 L168.42,336.46 L168.84,336.21 L169.27,335.98 L169.69,335.74 L170.12,335.51 L170.55,335.28 L170.98,335.05 L171.41,334.82 L171.84,334.60 L172.28,334.38 L172.71,334.16 L173.15,333.94 L173.59,333.73 L174.03,333.52 L174.47,333.31 L174.91,333.11 L175.35,332.91 L175.80,332.71 L176.25,332.52 L176.69,332.32 L177.14,332.14 L177.59,331.95 L178.05,331.77 L178.50,331.59 L178.96,331.42 L179.41,331.25 L179.87,331.08 L180.33,330.92 L180.79,330.76 L181.26,330.60 L181.72,330.45 L182.19,330.30 L182.65,330.16 L183.12,330.02 L183.59,329.88 L184.06,329.75 L184.53,329.62 L185.01,329.50 L185.48,329.38 L185.96,329.27 L186.43,329.16 L186.91,329.06 L187.39,328.96 L187.86,328.87 L188.34,328.78 L188.82,328.69 L189.30,328.61 L189.79,328.54 L190.27,328.47 L190.75,328.40 L191.23,328.34 L191.72,328.29 L192.20,328.24 L192.69,328.20 L193.17,328.16 L193.66,328.13 L194.14,328.11 L194.63,328.09 L195.12,328.07 L195.60,328.06 L196.09,328.06 L196.58,328.06 L197.06,328.07 L197.55,328.08 L198.04,328.10 L198.52,328.13 L199.01,328.16 L199.49,328.19 L199.98,328.23 L200.47,328.28 L200.95,328.33 L201.43,328.38 L201.92,328.44 L202.40,328.51 L202.89,328.58 L203.37,328.66 L203.85,328.74 L204.33,328.82 L204.81,328.91 L205.29,329.01 L205.77,329.11 L206.24,329.21 L206.72,329.32 L207.19,329.43 L207.67,329.55 L208.14,329.67 L208.61,329.80 L209.08,329.93 L209.55,330.07 L210.02,330.21 L210.48,330.35 L210.95,330.50 L211.41,330.66 L211.87,330.81 L212.33,330.97 L212.79,331.14 L213.25,331.31 L213.70,331.48 L214.16,331.66 L214.61,331.84 L215.06,332.02 L215.51,332.21 L215.96,332.40 L216.40,332.60 L216.85,332.79 L217.29,332.99 L217.74,333.20 L218.18,333.40 L218.62,333.61 L219.06,333.83 L219.50,334.04 L219.93,334.26 L220.37,334.48 L220.80,334.71 L221.23,334.93 L221.67,335.16 L222.10,335.39 L222.52,335.63 L222.95,335.86 L223.38,336.10 L223.80,336.34 L224.23,336.58 L224.65,336.82 L225.07,337.07 L225.49,337.32 L225.91,337.56 L226.33,337.81 L226.75,338.07 L227.16,338.32 L227.58,338.57 L227.99,338.83 L228.41,339.09 L228.82,339.35 L229.23,339.61 L229.64,339.87 L230.05,340.14 L230.46,340.40 L230.86,340.67 L231.27,340.94 L231.68,341.21 L232.08,341.48 L232.49,341.75 L232.89,342.02 L233.29,342.29 L233.69,342.57 L234.09,342.85 L234.49,343.12 L234.89,343.40 L235.29,343.68 L235.69,343.96 L236.09,344.24 L236.49,344.53 L236.88,344.81 L237.28,345.09 L237.67,345.38 L238.07,345.66 L238.46,345.95 L238.85,346.24 L239.25,346.52 L239.64,346.81 L240.03,347.10 L240.42,347.39 L240.82,347.68 L241.21,347.97 L241.60,348.27 L241.99,348.56 L242.38,348.85 L242.77,349.14 L243.16,349.44 L243.55,349.73 L243.93,350.03 L244.32,350.32 L244.71,350.62 L245.10,350.91 L245.49,351.21 L245.88,351.50 L246.26,351.80 L246.65,352.09 L247.04,352.39 L247.43,352.69 L247.81,352.98 L248.20,353.28 L248.59,353.58 L248.98,353.87 L249.36,354.17 L249.75,354.47 L250.14,354.76 L250.53,355.06 L250.92,355.36 L251.30,355.65 L251.69,355.95 L252.08,356.24 L252.47,356.54 L252.86,356.83 L253.25,357.13 L253.64,357.42 L254.02,357.72 L254.41,358.01 L254.80,358.30 L255.19,358.60 L255.59,358.89 L255.98,359.18 L256.37,359.47 L256.76,359.76 L257.15,360.05 L257.55,360.34 L257.94,360.63 L258.33,360.92 L258.73,361.20 L259.12,361.49 L259.52,361.78 L259.91,362.06 L260.31,362.34 L260.71,362.63 L261.10,362.91 L261.50,363.19 L261.90,363.47 L262.30,363.75 L262.70,364.03 L263.10,364.30 L263.50,364.58 L263.91,364.85 L264.31,365.13 L264.72,365.40 L265.12,365.67 L265.53,365.94 L265.93,366.21 L266.34,366.47 L266.75,366.74 L267.16,367.00 L267.57,367.26 L267.98,367.52 L268.39,367.78 L268.81,368.04 L269.22,368.29 L269.64,368.55 L270.05,368.80 L270.47,369.05 L270.89,369.30 L271.31,369.55 L271.73,369.79 L272.15,370.04 L272.58,370.28 L273.00,370.52 L273.43,370.75 L273.86,370.99 L274.28,371.22 L274.71,371.45 L275.14,371.68 L275.58,371.91 L276.01,372.13 L276.44,372.35 L276.88,372.57 L277.32,372.79 L277.76,373.00 L278.20,373.21 L278.64,373.42 L279.08,373.62 L279.52,373.82 L279.97,374.02 L280.41,374.21 L280.86,374.41 L281.31,374.59 L281.76,374.78 L282.21,374.96 L282.67,375.14 L283.12,375.31 L283.58,375.49 L284.03,375.65 L284.49,375.82 L284.95,375.98 L285.41,376.13 L285.88,376.28 L286.34,376.43 L286.81,376.58 L287.28,376.72 L287.74,376.85 L288.21,376.98 L288.69,377.11 L289.16,377.23 L289.63,377.35 L290.11,377.47 L290.58,377.57 L291.06,377.68 L291.54,377.78 L292.02,377.87 L292.50,377.96 L292.98,378.05 L293.46,378.13 L293.94,378.21 L294.43,378.28 L294.91,378.34 L295.40,378.40 L295.88,378.46 L296.37,378.51 L296.85,378.55 L297.34,378.59 L297.82,378.63 L298.31,378.66 L298.80,378.68 L299.28,378.70 L299.77,378.71 L300.26,378.72 L300.74,378.72 L301.23,378.71 L301.72,378.70 L302.20,378.68 L302.69,378.66 L303.18,378.63 L303.66,378.60 L304.15,378.56 L304.63,378.51 L305.11,378.46 L305.60,378.40 L306.08,378.33 L306.56,378.26 L307.05,378.19 L307.53,378.11 L308.01,378.02 L308.49,377.93 L308.97,377.84 L309.44,377.74 L309.92,377.63 L310.40,377.52 L310.87,377.41 L311.35,377.29 L311.82,377.16 L312.29,377.03 L312.77,376.90 L313.24,376.76 L313.70,376.62 L314.17,376.48 L314.64,376.33 L315.10,376.18 L315.57,376.02 L316.03,375.86 L316.49,375.70 L316.95,375.53 L317.41,375.36 L317.87,375.19 L318.32,375.01 L318.78,374.83 L319.23,374.65 L319.68,374.46 L320.13,374.27 L320.57,374.08 L321.02,373.89 L321.46,373.69 L321.91,373.49 L322.35,373.29 L322.79,373.08 L323.23,372.88 L323.67,372.67 L324.10,372.45 L324.54,372.24 L324.97,372.02 L325.40,371.80 L325.83,371.58 L326.26,371.35 L326.69,371.12 L327.12,370.89 L327.54,370.66 L327.97,370.43 L328.39,370.19 L328.81,369.95 L329.23,369.71 L329.65,369.47 L330.07,369.22 L330.49,368.98 L330.91,368.73 L331.32,368.48 L331.74,368.22 L332.15,367.97 L332.56,367.71 L332.98,367.46 L333.39,367.20 L333.80,366.93 L334.21,366.67 L334.61,366.41 L335.02,366.14 L335.43,365.87 L335.83,365.60 L336.24,365.33 L336.64,365.06 L337.05,364.79 L337.45,364.51 L337.85,364.23 L338.25,363.96 L338.65,363.68 L339.05,363.40 L339.45,363.12 L339.85,362.83 L340.25,362.55 L340.64,362.27 L341.04,361.98 L341.43,361.69 L341.83,361.41 L342.23,361.12 L342.62,360.83 L343.01,360.54 L343.41,360.25 L343.80,359.96 L344.19,359.66 L344.58,359.37 L344.98,359.08 L345.37,358.78 L345.76,358.49 L346.15,358.19 L346.54,357.90 L346.93,357.60 L347.32,357.31 L347.71,357.01 L348.10,356.71 L348.49,356.41 L348.87,356.12 L349.26,355.82 L349.65,355.52 L350.04,355.22 L350.43,354.92 L350.81,354.63 L351.20,354.33 L351.59,354.03 L351.98,353.73 L352.37,353.43 L352.75,353.13 L353.14,352.83 L353.53,352.54 L353.92,352.24 L354.30,351.94 L354.69,351.64 L355.08,351.35 L355.47,351.05 L355.86,350.75 L356.24,350.46 L356.63,350.16 L357.02,349.86 L357.41,349.57 L357.80,349.27 L358.19,348.98 L358.58,348.69 L358.97,348.39 L359.36,348.10 L359.75,347.81 L360.14,347.52 L360.53,347.23 L360.93,346.94 L361.32,346.65 L361.71,346.36 L362.10,346.07 L362.50,345.79 L362.89,345.50 L363.29,345.22 L363.68,344.93 L364.08,344.65 L364.47,344.37 L364.87,344.08 L365.27,343.80 L365.67,343.53 L366.07,343.25 L366.47,342.97 L366.87,342.70 L367.27,342.42 L367.67,342.15 L368.07,341.88 L368.47,341.60 L368.88,341.34 L369.28,341.07 L369.69,340.80 L370.10,340.54 L370.50,340.27 L370.91,340.01 L371.32,339.75 L371.73,339.49 L372.14,339.23 L372.56,338.97 L372.97,338.72 L373.38,338.47 L373.80,338.21 L374.21,337.96 L374.63,337.72 L375.05,337.47 L375.47,337.23 L375.89,336.98 L376.31,336.74 L376.74,336.50 L377.16,336.27 L377.59,336.03 L378.01,335.80 L378.44,335.57 L378.87,335.34 L379.30,335.11 L379.73,334.89 L380.17,334.66 L380.60,334.44 L381.04,334.22 L381.47,334.01 L381.91,333.79 L382.35,333.58 L382.80,333.37 L383.24,333.16 L383.68,332.96 L384.13,332.76 L384.58,332.56 L385.02,332.37 L385.47,332.17 L385.92,331.98 L386.38,331.80 L386.83,331.62 L387.29,331.44 L387.74,331.26 L388.20,331.09 L388.66,330.92 L389.12,330.76 L389.58,330.60 L390.04,330.44 L390.51,330.29 L390.97,330.14 L391.44,330.00 L391.91,329.86 L392.38,329.73 L392.85,329.60 L393.32,329.47 L393.79,329.35 L394.26,329.24 L394.74,329.13 L395.22,329.02 L395.69,328.92 L396.17,328.83 L396.65,328.74 L397.13,328.66 L397.61,328.58 L398.10,328.51 L398.58,328.44 L399.06,328.38 L399.55,328.32 L400.03,328.27 L400.52,328.23 L401.01,328.19 L401.50,328.16 L401.98,328.13 L402.47,328.10 L402.96,328.08 L403.45,328.07 L403.94,328.06 L404.42,328.06 L404.91,328.06 L405.40,328.07 L405.89,328.09 L406.38,328.10 L406.87,328.13 L407.35,328.16 L407.84,328.19 L408.33,328.23 L408.81,328.28 L409.30,328.33 L409.78,328.38 L410.26,328.44 L410.75,328.51 L411.23,328.58 L411.71,328.66 L412.19,328.74 L412.67,328.82 L413.14,328.91 L413.62,329.01 L414.09,329.11 L414.57,329.22 L415.04,329.33 L415.51,329.44 L415.98,329.56 L416.45,329.68 L416.92,329.81 L417.39,329.94 L417.86,330.08 L418.32,330.22 L418.79,330.37 L419.25,330.52 L419.71,330.67 L420.17,330.83 L420.63,330.99 L421.09,331.15 L421.55,331.32 L422.00,331.49 L422.46,331.67 L422.91,331.85 L423.36,332.03 L423.81,332.22 L424.26,332.41 L424.71,332.60 L425.16,332.79 L425.60,332.99 L426.05,333.19 L426.49,333.40 L426.93,333.61 L427.37,333.82 L427.81,334.03 L428.25,334.25 L428.68,334.47 L429.12,334.69 L429.55,334.91 L429.99,335.14 L430.42,335.37 L430.85,335.60 L431.28,335.83 L431.70,336.07 L432.13,336.31 L432.56,336.55 L432.98,336.79 L433.40,337.04 L433.82,337.29 L434.24,337.53 L434.66,337.79 L435.08,338.04 L435.50,338.29 L435.92,338.55 L436.33,338.81 L436.74,339.07 L437.16,339.33 L437.57,339.59 L437.98,339.86 L438.39,340.12 L438.80,340.39 L439.21,340.66 L439.62,340.93 L440.02,341.20 L440.43,341.48 L440.83,341.75 L441.24,342.03 L441.64,342.30 L442.04,342.58 L442.44,342.86 L442.84,343.14 L443.24,343.42 L443.64,343.70 L444.04,343.98 L444.43,344.26 L444.83,344.54 L445.23,344.83 L445.62,345.11 L446.02,345.40 L446.41,345.68 L446.80,345.97 L447.20,346.26 L447.59,346.55 L447.98,346.84 L448.37,347.12 L448.76,347.41 L449.15,347.70 L449.54,348.00 L449.93,348.29 L450.32,348.58 L450.71,348.87 L451.10,349.16 L451.49,349.45 L451.87,349.75 L452.26,350.04 L452.65,350.33 L453.03,350.63 L453.42,350.92 L453.81,351.22 L454.19,351.51 L454.58,351.81 L454.97,352.10 L455.35,352.40 L455.74,352.69 L456.13,352.98 L456.51,353.28 L456.90,353.57 L457.28,353.87 L457.67,354.16 L458.06,354.46 L458.44,354.75 L458.83,355.05 L459.22,355.34 L459.60,355.64 L459.99,355.93 L460.38,356.23 L460.76,356.52 L461.15,356.81 L461.54,357.11 L461.93,357.40 L462.32,357.69 L462.71,357.98 L463.10,358.28 L463.49,358.57 L463.88,358.86 L464.27,359.15 L464.66,359.44 L465.05,359.73 L465.44,360.02 L465.84,360.31 L466.23,360.59 L466.62,360.88 L467.02,361.17 L467.41,361.45 L467.81,361.74 L468.20,362.02 L468.60,362.31 L469.00,362.59 L469.40,362.87 L469.80,363.15 L470.20,363.43 L470.60,363.71 L471.00,363.99 L471.41,364.27 L471.81,364.55 L472.21,364.82 L472.62,365.10 L473.03,365.37 L473.43,365.65 L473.84,365.92 L474.25,366.19 L474.66,366.46 L475.07,366.73 L475.49,366.99 L475.90,367.26 L476.31,367.52 L476.73,367.78 L477.15,368.04 L477.56,368.30 L477.98,368.56 L478.40,368.81 L478.82,369.07 L479.24,369.32 L479.67,369.57 L480.09,369.82 L480.51,370.06 L480.94,370.30 L481.37,370.55 L481.79,370.78 L482.22,371.02 L482.65,371.25 L483.08,371.49 L483.52,371.71 L483.95,371.94 L484.38,372.16 L484.82,372.39 L485.25,372.60 L485.69,372.82 L486.13,373.03 L486.57,373.24 L487.01,373.45 L487.45,373.65 L487.90,373.85 L488.34,374.05 L488.78,374.24 L489.23,374.43 L489.68,374.62 L490.13,374.80 L490.58,374.98 L491.03,375.16 L491.48,375.33 L491.93,375.50 L492.39,375.67 L492.84,375.83 L493.30,375.99 L493.76,376.14 L494.22,376.29 L494.68,376.44 L495.14,376.58 L495.60,376.72 L496.06,376.85 L496.53,376.98 L497.00,377.11 L497.46,377.23 L497.93,377.34 L498.40,377.45 L498.87,377.56 L499.34,377.66 L499.82,377.76 L500.29,377.86 L500.77,377.94 L501.25,378.03 L501.72,378.11 L502.20,378.18 L502.69,378.25 L503.17,378.31 L503.65,378.37 L504.14,378.42 L504.62,378.47 L505.11,378.51 L505.60,378.55 L506.09,378.58 L506.58,378.61 L507.07,378.63 L507.56,378.64 L508.05,378.65 L508.54,378.66 L509.03,378.66 L509.53,378.66 L510.02,378.65 L510.51,378.63 L511.00,378.61 L511.50,378.58 L511.99,378.55 L512.48,378.52 L512.97,378.47 L513.46,378.43 L513.95,378.37 L514.44,378.32 L514.92,378.25 L515.41,378.19 L515.90,378.11 L516.38,378.03 L516.86,377.95 L517.34,377.86 L517.82,377.77 L518.30,377.67 L518.78,377.56 L519.25,377.45 L519.72,377.34 L520.19,377.22 L520.66,377.09 L521.13,376.96 L521.59,376.83 L522.06,376.69 L522.52,376.54 L522.98,376.39 L523.44,376.24 L523.89,376.08 L524.35,375.92 L524.81,375.76 L525.26,375.59 L525.71,375.42 L526.17,375.24 L526.62,375.07 L527.07,374.88 L527.52,374.70 L527.96,374.51 L528.41,374.32 L528.86,374.12 L529.30,373.93 L529.75,373.73 L530.20,373.53 L530.64,373.32 L531.09,373.12 L531.53,372.91 L531.97,372.70 L532.42,372.49 L532.86,372.27 L533.31,372.06 L533.75,371.84 L533.75,371.84" fill="none" stroke="#0000ff" stroke-width="1.9" stroke-linejoin="round" stroke-linecap="butt"/>
<text x="30.3" y="257.01" font-size="14" text-anchor="end">2</text>
<text x="30.3" y="308.14" font-size="14" text-anchor="end">1</text>
<text x="30.3" y="359.27" font-size="14" text-anchor="end">0</text>
<text x="30.3" y="410.40" font-size="14" text-anchor="end">-1</text>
<text x="36.50" y="425.0" font-size="14" text-anchor="middle">0</text>
<text x="202.28" y="425.0" font-size="14" text-anchor="middle">5</text>
<text x="368.07" y="425.0" font-size="14" text-anchor="middle">10</text>
<text x="533.85" y="425.0" font-size="14" text-anchor="middle">15</text>
<text x="285.18" y="439.0" font-size="14" text-anchor="middle">Time (s)</text>
<text x="285.18" y="242.6" font-size="15.4" text-anchor="middle" style="fill:#000">(b)</text>
<rect x="466.4" y="254.8" width="57.90" height="26.40" fill="#fff" stroke="#262626" stroke-width="1.2"/>
<path d="M470.4,268.2H502.0" stroke="#0000ff" stroke-width="1.9" fill="none"/>
<text class="lg" transform="translate(504.5,271.9) scale(1.15,1)" font-size="15">u<tspan font-size="10.5" dy="2.4">d</tspan></text>
</g></svg></body></html>
